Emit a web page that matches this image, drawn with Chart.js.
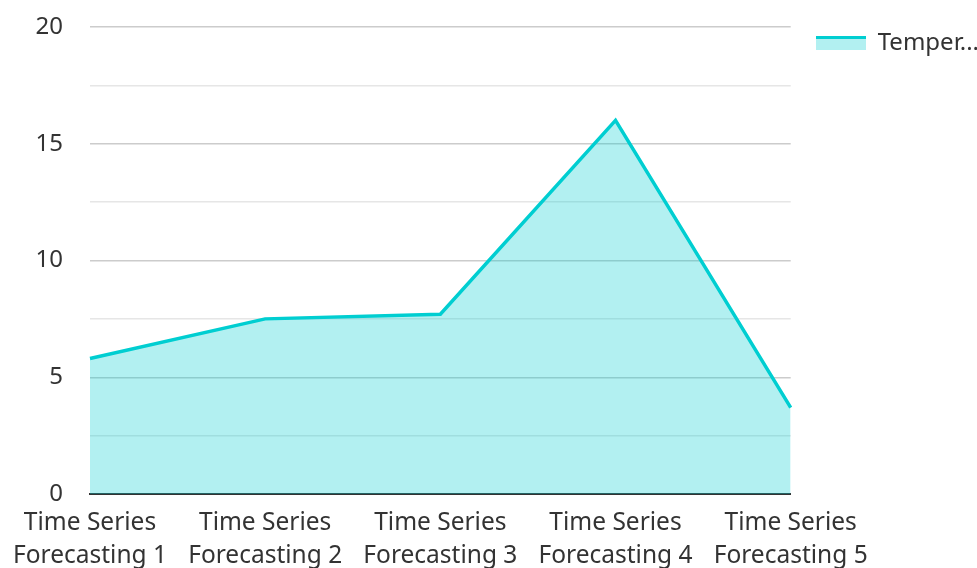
<!DOCTYPE html>
<html>
<head>
<meta charset="utf-8">
<script src="https://cdn.jsdelivr.net/npm/chart.js@4.4.1/dist/chart.umd.min.js"></script>
<style>
  html, body { margin: 0; padding: 0; background: #ffffff; }
  #wrap { width: 977px; height: 568px; position: relative; }
</style>
</head>
<body>
<div id="wrap"><canvas id="chart"></canvas></div>
<script>
// Categories (two-line axis labels)
const categories = [
  ['Time Series', 'Forecasting 1'],
  ['Time Series', 'Forecasting 2'],
  ['Time Series', 'Forecasting 3'],
  ['Time Series', 'Forecasting 4'],
  ['Time Series', 'Forecasting 5']
];
// Series
const seriesName = 'Temperature';
const temperature = [5.8, 7.5, 7.7, 16, 3.7];
// Y axis
const yMin = 0;
const yMax = 20;
const yStep = 2.5;
const yLabelEvery = 5;

const LINE = '#00ced1';
const FILL = 'rgba(0, 206, 209, 0.3)';
const TEXT = '#333333';
const FONT = "'Noto Sans', 'Open Sans', sans-serif";

// Legend swatch: a line on top of a filled band
function makeSwatch() {
  const c = document.createElement('canvas');
  c.width = 50; c.height = 14;
  const g = c.getContext('2d');
  g.fillStyle = FILL;
  g.fillRect(0, 0, 50, 14);
  g.fillStyle = LINE;
  g.fillRect(0, 0, 50, 3);
  return c;
}
const swatch = makeSwatch();

// Places the legend column next to the plot area, near the top
const legendPlacement = {
  id: 'legendPlacement',
  afterLayout(chart) {
    const lg = chart.legend;
    if (!lg) return;
    const dx = chart.chartArea.right + 15 - lg.left;
    lg.left += dx; lg.right += dx;
    const dy = 21 - lg.top;
    lg.top += dy; lg.bottom += dy;
  }
};

new Chart(document.getElementById('chart'), {
  type: 'line',
  data: {
    labels: categories,
    datasets: [{
      label: seriesName,
      data: temperature,
      borderColor: LINE,
      backgroundColor: FILL,
      borderWidth: 3.5,
      fill: 'origin',
      tension: 0,
      pointRadius: 0,
      pointHoverRadius: 0
    }]
  },
  options: {
    responsive: true,
    maintainAspectRatio: false,
    animation: false,
    layout: { padding: { top: 27, right: 3, bottom: 0, left: 0 } },
    plugins: {
      tooltip: { enabled: false },
      legend: {
        position: 'right',
        align: 'start',
        labels: {
          usePointStyle: true,
          pointStyle: swatch,
          pointStyleWidth: 50,
          boxHeight: 14,
          padding: 10,
          color: TEXT,
          font: { family: FONT, size: 24 },
          generateLabels(chart) {
            return chart.data.datasets.map((ds, i) => ({
              text: ds.label.length > 6 ? ds.label.slice(0, 6) + '...' : ds.label,
              pointStyle: swatch,
              fillStyle: FILL,
              strokeStyle: LINE,
              lineWidth: 0,
              hidden: false,
              datasetIndex: i,
              fontColor: TEXT
            }));
          }
        }
      }
    },
    scales: {
      x: {
        offset: false,
        afterFit(scale) { scale.height = 74; },
        grid: { display: false, drawTicks: false },
        border: { display: true, color: '#333333', width: 2 },
        ticks: {
          color: TEXT,
          padding: 13,
          maxRotation: 0,
          autoSkip: false,
          font: { family: FONT, size: 24.5, lineHeight: 1.33 }
        }
      },
      y: {
        min: yMin,
        max: yMax,
        afterFit(scale) {
          scale.width = 89;
          scale.paddingTop = 0;
          scale.paddingBottom = 0;
        },
        grid: {
          drawTicks: false,
          lineWidth: 1.5,
          color(ctx) {
            const v = ctx.tick ? ctx.tick.value : 0;
            return v % yLabelEvery === 0 ? '#cccccc' : '#e6e6e6';
          }
        },
        border: { display: false },
        ticks: {
          stepSize: yStep,
          padding: 27,
          color: TEXT,
          font: { family: FONT, size: 24 },
          callback(value) { return value % yLabelEvery === 0 ? String(value) : ''; }
        }
      }
    }
  },
  plugins: [legendPlacement]
});
</script>
</body>
</html>
